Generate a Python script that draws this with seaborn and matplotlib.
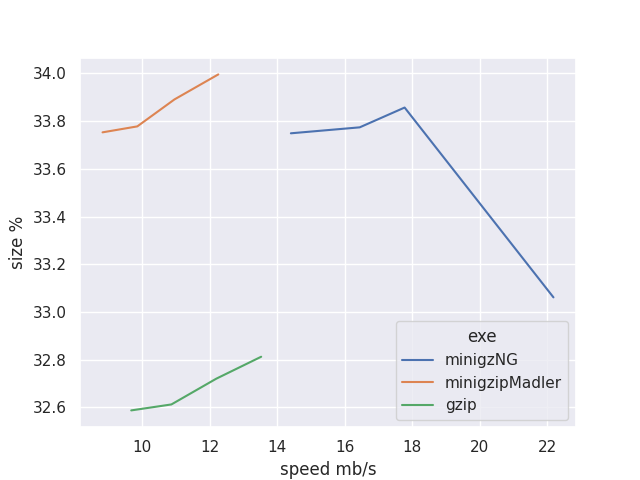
import pandas as pd
import matplotlib
matplotlib.use("Agg")
import matplotlib.pyplot as plt
import seaborn as sns

exe_ng = "minigzNG"
ng_speed = [14.40, 16.44, 17.77, 22.18]
ng_size = [33.749, 33.774, 33.857, 33.061]

exe_madler = "minigzipMadler"
madler_speed = [8.82, 9.85, 10.95, 12.25]
madler_size = [33.753, 33.778, 33.891, 33.996]

exe_gzip = "gzip"
gzip_speed = [9.67, 10.86, 12.19, 13.52]
gzip_size = [32.587, 32.612, 32.720, 32.812]

df = pd.concat([
    pd.DataFrame({"speed mb/s": ng_speed, "size %": ng_size, "exe": exe_ng}),
    pd.DataFrame({"speed mb/s": madler_speed, "size %": madler_size, "exe": exe_madler}),
    pd.DataFrame({"speed mb/s": gzip_speed, "size %": gzip_size, "exe": exe_gzip}),
])

sns.set_theme(style="darkgrid")
fig, ax = plt.subplots(figsize=(6.4, 4.8), dpi=100)
sns.lineplot(data=df, x="speed mb/s", y="size %", hue="exe", sort=False, ax=ax)
ax.legend(title="exe", loc="lower right")
fig.savefig("out.png")
